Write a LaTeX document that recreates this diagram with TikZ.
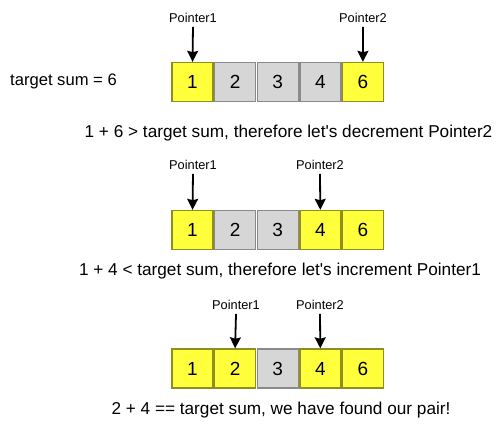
\documentclass[tikz,border=0pt]{standalone}
\usepackage{fontspec}
\setmainfont{Liberation Sans}
\usetikzlibrary{positioning, arrows.meta}
\definecolor{hityellow}{HTML}{FFFF3C}
\definecolor{hitedge}{HTML}{8F8F1E}
\definecolor{cellgray}{HTML}{D6D6D6}
\definecolor{celledge}{HTML}{8A8A8A}

\begin{document}
\begin{tikzpicture}[x=1pt, y=-1pt,
    cell/.style={draw=celledge, fill=cellgray, line width=1.4pt,
        minimum width=41pt, minimum height=39pt, inner sep=0pt,
        font=\fontsize{19}{19}\selectfont},
    hit/.style={cell, draw=hitedge, fill=hityellow},
    ptr/.style={font=\fontsize{12.8}{12.8}\selectfont, inner sep=1pt},
    caption/.style={font=\fontsize{17.2}{17.2}\selectfont, inner sep=0pt},
    pointing/.style={-{Stealth[length=11pt, width=11pt, inset=1.5pt]}, line width=1.8pt}]

\useasboundingbox (0,0) rectangle (504,445);

% Row 1
\foreach \val/\look [count=\i] in {1/hit, 2/cell, 3/cell, 4/cell, 6/hit}{
    \node[\look] (a\i) at ({192.5+42.6*(\i-1)}, 82) {\val};
}
\node[caption, anchor=west, font=\fontsize{16.6}{16.6}\selectfont] (goal) at (10, 81) {target sum = 6};
\node[ptr] (pa1) at (193, 18) {Pointer1};
\node[ptr] (pa2) at (363, 18) {Pointer2};
\draw[pointing] (pa1.south) ++(0,3) -- (a1.north);
\draw[pointing] (pa2.south) ++(0,3) -- (a5.north);
\node[caption] (note1) at (288.5, 133) {1 + 6 > target sum, therefore let\textquotesingle s decrement Pointer2};

% Row 2
\foreach \val/\look [count=\i] in {1/hit, 2/cell, 3/cell, 4/hit, 6/hit}{
    \node[\look] (b\i) at ({192.5+42.6*(\i-1)}, 230) {\val};
}
\node[ptr] (pb1) at (193, 165) {Pointer1};
\node[ptr] (pb2) at (320, 165) {Pointer2};
\draw[pointing] (pb1.south) ++(0,3) -- (b1.north);
\draw[pointing] (pb2.south) ++(0,3) -- (b4.north);
\node[caption] (note2) at (280, 271) {1 + 4 < target sum, therefore let\textquotesingle s increment Pointer1};

% Row 3
\foreach \val/\look [count=\i] in {1/hit, 2/hit, 3/cell, 4/hit, 6/hit}{
    \node[\look] (c\i) at ({192.5+42.6*(\i-1)}, 368.5) {\val};
}
\node[ptr] (pc1) at (236, 305) {Pointer1};
\node[ptr] (pc2) at (320, 305) {Pointer2};
\draw[pointing] (pc1.south) ++(0,3) -- (c2.north);
\draw[pointing] (pc2.south) ++(0,3) -- (c4.north);
\node[caption] (note3) at (281, 410) {2 + 4 == target sum, we have found our pair!};

\end{tikzpicture}
\end{document}
